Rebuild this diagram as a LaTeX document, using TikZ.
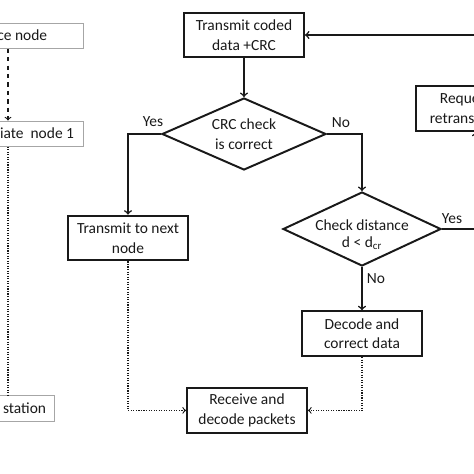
\documentclass[tikz,border=0pt]{standalone}
\usepackage{fontspec}
\setmainfont{Carlito}
\usetikzlibrary{shapes.geometric}

\begin{document}
\begin{tikzpicture}[>=to,line width=1.1pt,font=\fontsize{11}{14}\selectfont,color=black!90]
\tikzstyle{proc}=[rectangle,draw,line width=1.4pt,minimum width=3cm,minimum height=1.12cm,align=center,inner sep=2pt]
\tikzstyle{check}=[diamond,draw,line width=1.4pt,aspect=2.2,inner sep=0pt,align=center,minimum width=#1,minimum height=1.8cm]
\tikzstyle{hop}=[rectangle,draw=black!35,line width=0.7pt,minimum height=0.63cm,inner sep=2pt]
\tikzstyle{lbl}=[inner sep=0pt]
\clip (0,0) rectangle (11.85,11.85);
\node[proc](TC) at (6.1,10.975) {Transmit coded\\data +CRC};
\node[check=4.1cm](CRC) at (6.1,8.5) {CRC check\\is correct};
\node[proc](TN) at (3.2,5.9) {Transmit to next\\node};
\node[check=3.95cm,minimum height=1.85cm,label={[align=center,yshift=-4pt,font=\fontsize{11}{12.5}\selectfont]center:Check distance\\d < d\textsubscript{cr}}](CD) at (9.05,6.125) {};
\node[proc](DC) at (9.05,3.51) {Decode and\\correct data};
\node[proc](RD) at (6.175,1.59) {Receive and\\decode packets};
\node[proc](RQ) at (11.9,9.14) {Request for\\retransmission};
\node[hop,minimum width=3.75cm](S) at (0.2,10.96) {Source node};
\node[hop,minimum width=3.75cm](I) at (0.2,8.51) {Intermediate\ \ node 1};
\node[hop,minimum width=2.3cm](B) at (0.2,1.64) {Base station};

\node[lbl](yes1) at (3.825,8.8) {Yes};
\node[lbl](no1) at (8.525,8.775) {No};
\node[lbl](yes2) at (11.3,6.375) {Yes};
\node[lbl](no2) at (9.4,4.875) {No};

\draw[->] (TC) -- (CRC);
\draw[->] (CRC.west) -| (TN.north);
\draw[->] (CRC.east) -| (CD.north);
\draw[->] (CD) -- (DC);
\draw[->] (CD.east) -| (RQ.south);
\draw[->] (RQ.north) |- (TC.east);
\draw[->,densely dotted,line width=0.8pt] (TN.south) |- (RD.west);
\draw[->,densely dotted,line width=0.8pt] (DC.south) |- (RD.east);
\draw[->,dashed,line width=0.8pt] (S) -- (I);
\draw[densely dotted,line width=0.8pt] (I) -- (B);
\end{tikzpicture}
\end{document}
